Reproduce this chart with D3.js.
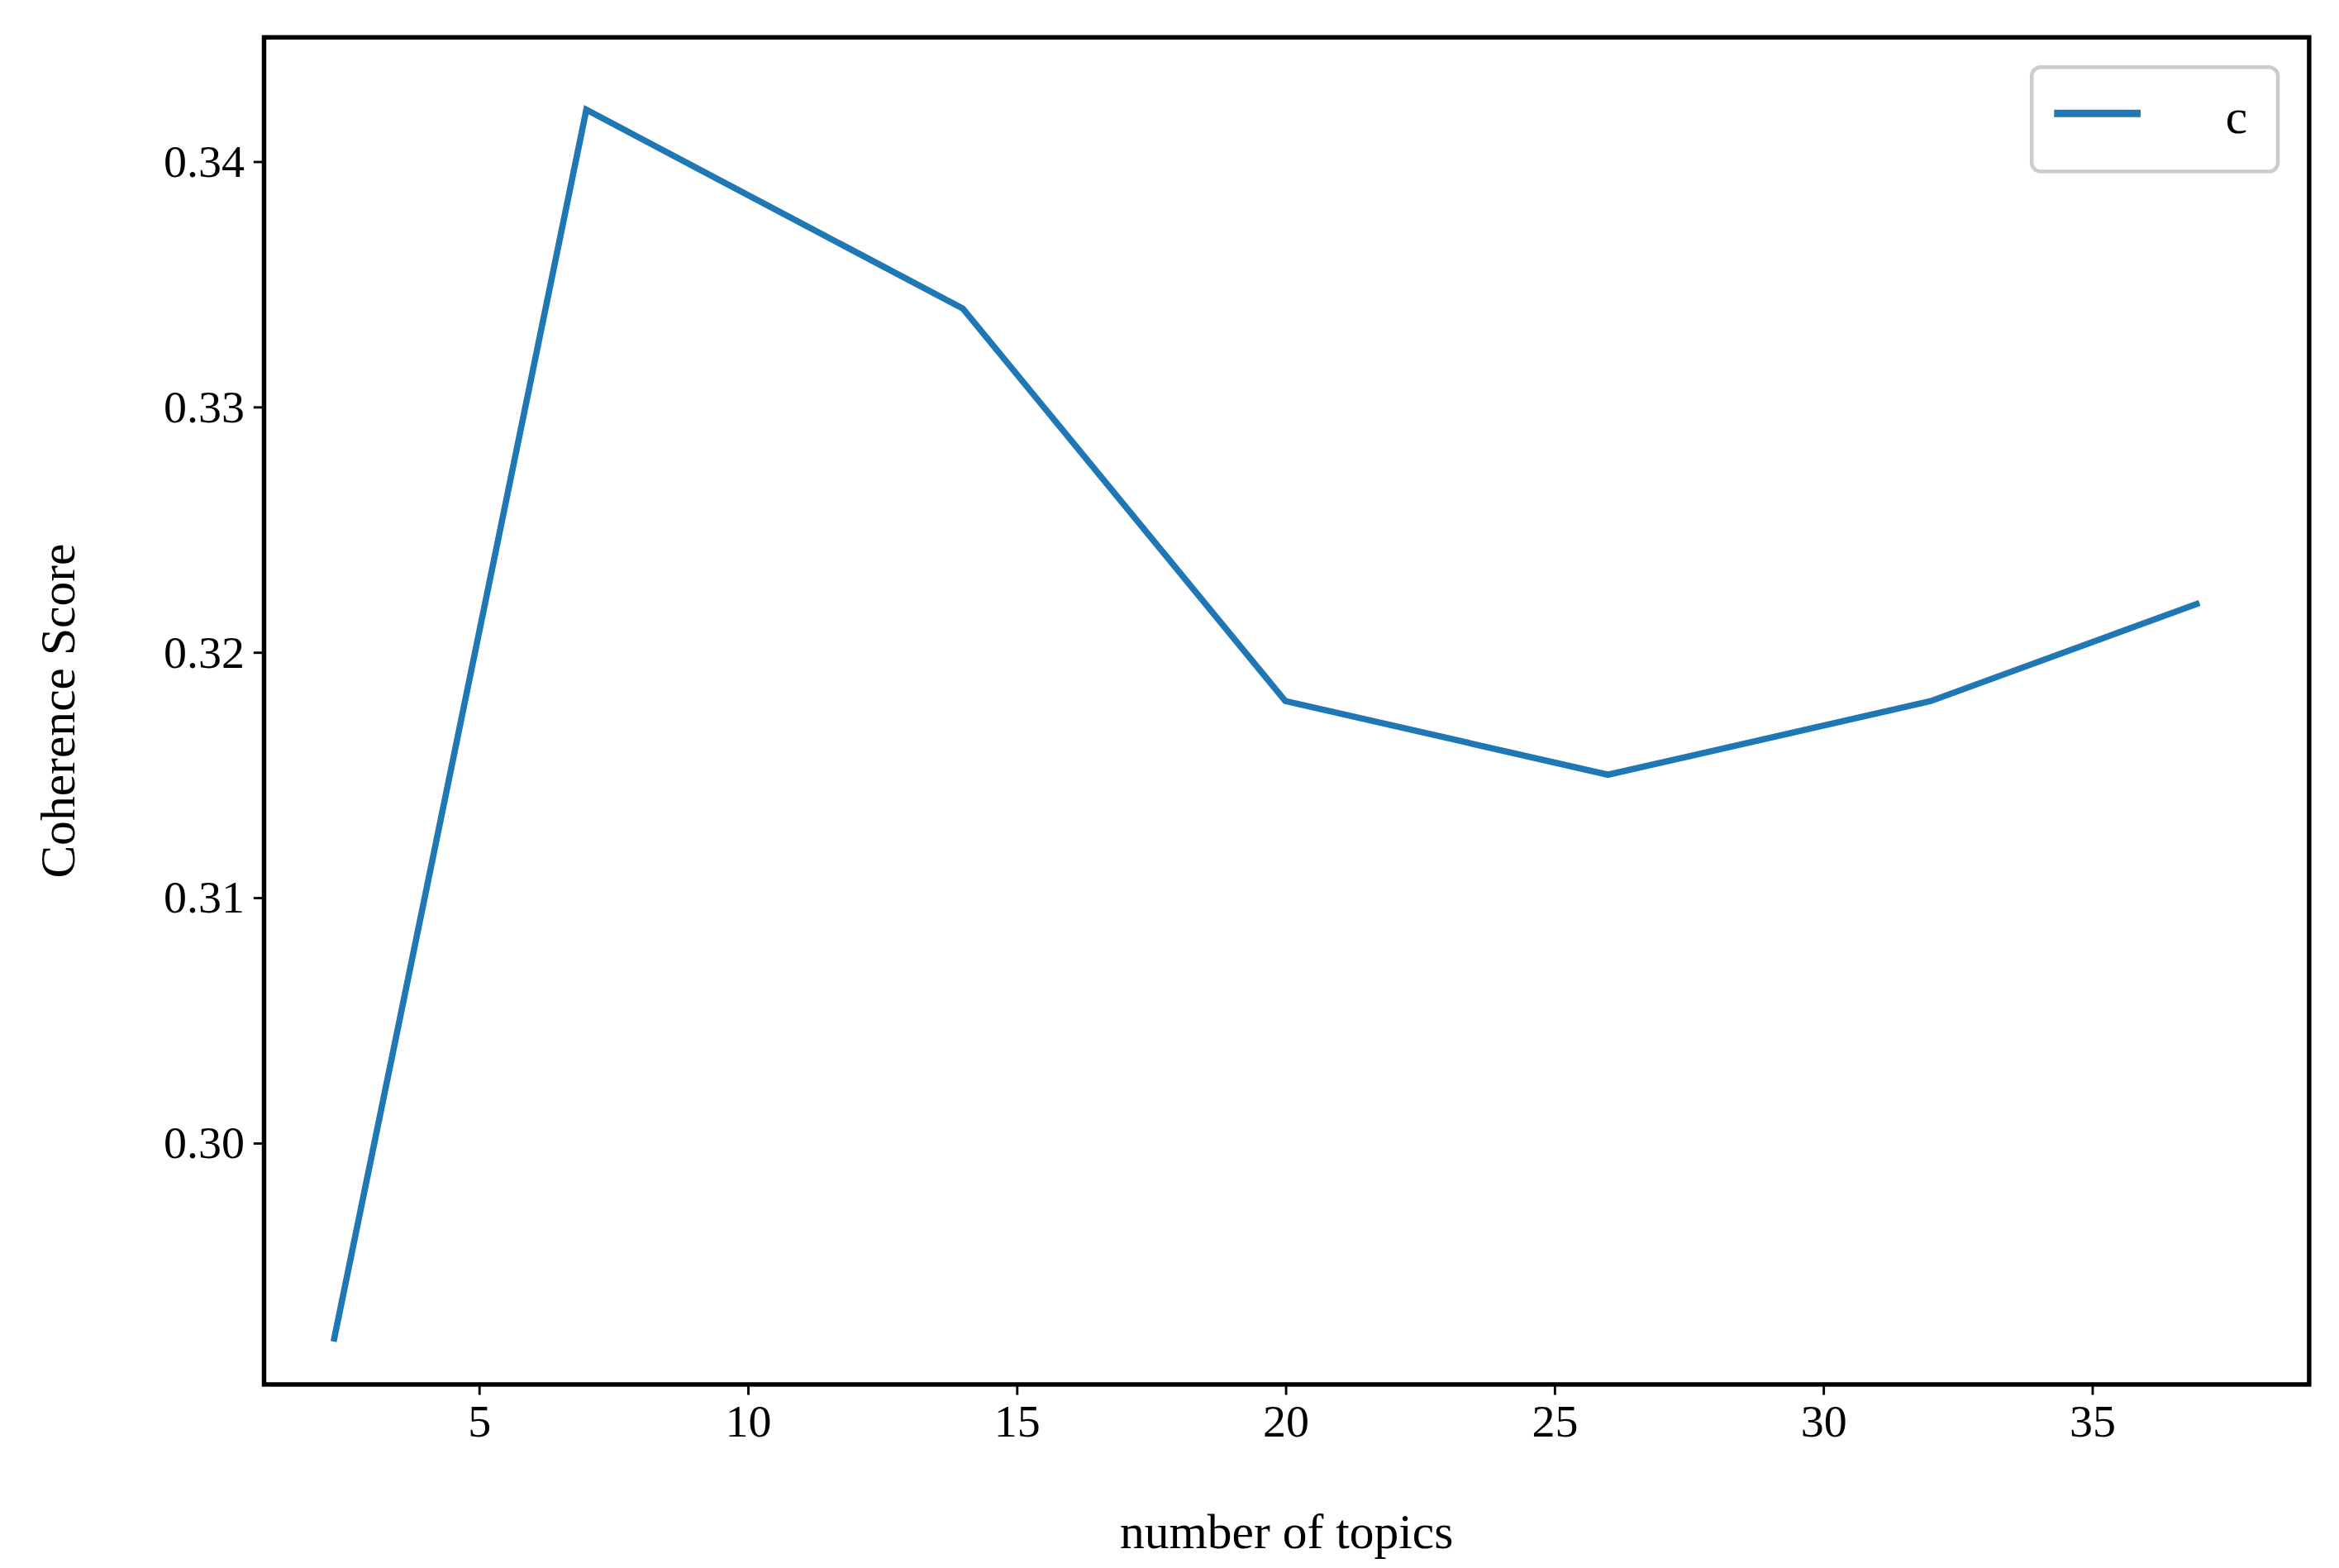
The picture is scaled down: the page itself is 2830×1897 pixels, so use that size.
<!DOCTYPE html>
<meta charset="utf-8">
<script src="https://d3js.org/d3.v7.min.js"></script>
<style>body{margin:0;background:#fff}</style>
<svg id="chart" width="2830" height="1897" viewBox="0 0 1568 1051"></svg>
<script>
  // data
  var topics = [2.3, 7, 14, 20, 26, 32, 37];
  var coherence = [0.2919, 0.3421, 0.3340, 0.3180, 0.3150, 0.3180, 0.3220];
  var xTicks = [5, 10, 15, 20, 25, 30, 35];
  var yTicks = [0.30, 0.31, 0.32, 0.33, 0.34];

  var svg = d3.select("#chart");
  var mLeft = 177, mRight = 1548, mTop = 25, mBottom = 928;
  var font = "Liberation Serif, Times New Roman, serif";

  var x = d3.scaleLinear().domain([1.006, 39.04]).range([mLeft, mRight]);
  var y = d3.scaleLinear().domain([0.29015, 0.34505]).range([mBottom, mTop]);

  var xa = svg.append("g").attr("transform", "translate(0," + mBottom + ")")
      .call(d3.axisBottom(x).tickValues(xTicks).tickSize(7).tickPadding(6).tickFormat(d3.format("d")));
  var ya = svg.append("g").attr("transform", "translate(" + mLeft + ",0)")
      .call(d3.axisLeft(y).tickValues(yTicks).tickSize(7).tickPadding(6).tickFormat(d3.format(".2f")));
  [xa, ya].forEach(function(a) {
    a.select(".domain").remove();
    a.selectAll("line").attr("stroke", "#000").attr("stroke-width", 1.6);
    a.selectAll("text").attr("font-family", font).attr("font-size", 31).attr("fill", "#000");
  });

  svg.append("path")
      .datum(topics.map(function(t, i) { return [t, coherence[i]]; }))
      .attr("d", d3.line().x(function(d) { return x(d[0]); }).y(function(d) { return y(d[1]); }))
      .style("fill", "none")
      .style("stroke", "#1f77b4")
      .style("stroke-width", 4.2);

  svg.append("rect")
      .attr("x", mLeft).attr("y", mTop).attr("width", mRight - mLeft).attr("height", mBottom - mTop)
      .style("fill", "none").style("stroke", "#000").style("stroke-width", 3);

  // legend
  svg.append("rect").attr("x", 1362).attr("y", 45).attr("width", 165).attr("height", 70)
      .attr("rx", 6).style("fill", "#fff").style("stroke", "#ccc").style("stroke-width", 2.5);
  svg.append("line").attr("x1", 1377).attr("x2", 1435).attr("y1", 76).attr("y2", 76)
      .style("stroke", "#1f77b4").style("stroke-width", 5);
  svg.append("text").attr("x", 1492).attr("y", 89).text("c")
      .attr("font-family", font).attr("font-size", 33);

  svg.append("text").attr("x", (mLeft + mRight) / 2).attr("y", 1038).attr("text-anchor", "middle")
      .text("number of topics").attr("font-family", font).attr("font-size", 33);
  svg.append("text").attr("transform", "translate(50," + (mTop + mBottom) / 2 + ") rotate(-90)")
      .attr("text-anchor", "middle").text("Coherence Score")
      .attr("font-family", font).attr("font-size", 33);
</script>
